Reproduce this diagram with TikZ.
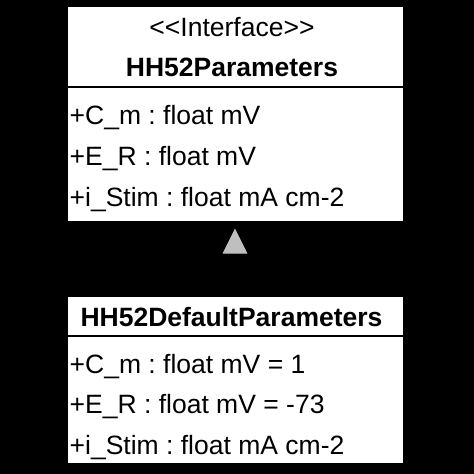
\documentclass[tikz,border=0pt]{standalone}
\usepackage{fontspec}
\setmainfont{Liberation Sans}[Ligatures=NoCommon]
\usetikzlibrary{arrows.meta}
\definecolor{triGrey}{gray}{0.75}
\frenchspacing
\tikzset{
  classbox/.style={draw=black, fill=white, line width=1pt, inner sep=0pt},
  divider/.style={draw=black, line width=1.3pt},
  txt/.style={inner sep=0pt, font=\fontsize{26.5}{30}\selectfont\frenchspacing},
  attr/.style={txt, anchor=base west},
  title/.style={txt, anchor=base, font=\fontsize{26.5}{30}\selectfont\bfseries\frenchspacing},
}
\begin{document}
\begin{tikzpicture}[x=1pt, y=-1pt]
\useasboundingbox (0,0) rectangle (474,474);
\fill[black] (0,0) rectangle (474,474);
% top class
\node[classbox, minimum width=336pt, minimum height=215pt] (top) at (235,113.5) {};
\draw[divider] (67,87) -- (403,87);
\node[txt, anchor=base] (stereo) at (232,36) {{<}{<}Interface{>}{>}};
\node[title] (topname) at (232,76) {HH52Parameters};
\node[attr] (ta1) at (69.5,124) {+C\_m : float mV};
\node[attr] (ta2) at (69.5,165) {+E\_R : float mV};
\node[attr] (ta3) at (69.5,206) {+i\_Stim : float mA cm-2};
% bottom class
\node[classbox, minimum width=336pt, minimum height=167pt] (bot) at (235,379.5) {};
\draw[divider] (67,336) -- (403,336);
\node[title] (botname) at (231.5,326) {HH52DefaultParameters};
\node[attr] (ba1) at (69.5,373) {+C\_m : float mV = 1};
\node[attr] (ba2) at (69.5,413) {+E\_R : float mV = -73};
\node[attr] (ba3) at (69.5,454) {+i\_Stim : float mA cm-2};
% realization
\draw[black, line width=1pt, shorten >=7pt,
  -{Triangle[length=25pt, width=24.6pt, color=triGrey]}] (bot.north) -- (top.south);
\end{tikzpicture}
\end{document}
